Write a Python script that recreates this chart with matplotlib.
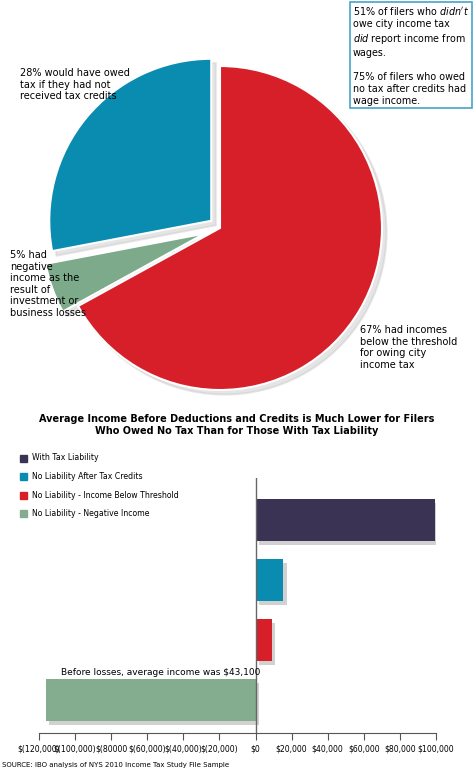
import matplotlib
matplotlib.use("Agg")
import matplotlib.pyplot as plt
import numpy as np

pie_shares = [28, 5, 67]
pie_colors = ["#0a8cb0", "#7daa8a", "#d71f2a"]
pie_labels = ["28% would have owed\ntax if they had not\nreceived tax credits",
              "5% had\nnegative\nincome as the\nresult of\ninvestment or\nbusiness losses",
              "67% had incomes\nbelow the threshold\nfor owing city\nincome tax"]

bar_cats = ["With Tax Liability", "No Liability After Tax Credits",
            "No Liability - Income Below Threshold", "No Liability - Negative Income"]
bar_vals = [99300, 15400, 9000, -116300]
bar_colors = ["#3b3354", "#0a8cb0", "#d71f2a", "#84ac8e"]
tick_vals = [-120000, -100000, -80000, -60000, -40000, -20000, 0, 20000, 40000, 60000, 80000, 100000]
tick_labels = ["$(120,000)", "$(100,000)", "$(80000", "$(60,000)", "$(40,000)", "$(20,000)",
               "$0", "$20,000", "$40,000", "$60,000", "$80,000", "$100,000"]

W, H = 474, 773
fig = plt.figure(figsize=(W/100, H/100), dpi=100)
fig.patch.set_facecolor("white")

# Pie
cx, cy, r = 220, 228, 162
axp = fig.add_axes([(cx-1.25*r)/W, 1-(cy+1.25*r)/H, 2.5*r/W, 2.5*r/H])
axp.pie(pie_shares, colors=pie_colors, startangle=90, counterclock=True,
        explode=[0.07, 0.1, 0.0], wedgeprops=dict(edgecolor="white", linewidth=1.5),
        shadow={"ox": 0.02, "oy": -0.02, "shade": 0.3, "color": "#cccccc"})
axp.set_xlim(-1.25, 1.25)
axp.set_ylim(-1.25, 1.25)
axp.set_aspect("equal")
axp.set_zorder(0)
fig.text(20/W, 1-68/H, pie_labels[0], fontsize=7, va="top", ha="left")
fig.text(10/W, 1-250/H, pie_labels[1], fontsize=7, va="top", ha="left")
fig.text(360/W, 1-325/H, pie_labels[2], fontsize=7, va="top", ha="left")

# Text box
fig.text(353/W, 1-5/H,
         "51% of filers who $\\it{didn't}$\nowe city income tax\n$\\it{did}$ report income from\nwages.\n\n75% of filers who owed\nno tax after credits had\nwage income.",
         fontsize=6.9, va="top", ha="left", linespacing=1.25, zorder=5,
         bbox=dict(boxstyle="square,pad=0.3", facecolor="white", edgecolor="#4aa3c8", linewidth=1.2))

# Title
fig.text(0.5, 1-425/H,
         "Average Income Before Deductions and Credits is Much Lower for Filers\nWho Owed No Tax Than for Those With Tax Liability",
         fontsize=7, fontweight="bold", ha="center", va="center")

# Bars
x0, x1 = 39, 436
axb = fig.add_axes([x0/W, 1-733/H, (x1-x0)/W, (733-478)/H])
ypos = np.arange(len(bar_vals))[::-1]
for y, v, c in zip(ypos, bar_vals, bar_colors):
    axb.barh(y - 0.07, v, height=0.7, left=2000, color="#999999", alpha=0.45, zorder=1)
    axb.barh(y, v, height=0.7, color=c, zorder=2)
axb.set_xlim(-120000, 100000)
axb.set_ylim(-0.55, 3.7)
axb.axvline(0, color="#666666", lw=1, zorder=3)
for s in ["top", "right", "left"]:
    axb.spines[s].set_visible(False)
axb.spines["bottom"].set_color("#555555")
axb.set_yticks([])
axb.set_xticks(tick_vals)
axb.set_xticklabels(tick_labels, fontsize=5.6)
axb.tick_params(axis="x", length=5, color="#555555", pad=3)
axb.text(-108000, 0.38, "Before losses, average income was $43,100", fontsize=6.5, va="bottom")

# Legend
for i, (lab, c) in enumerate(zip(bar_cats, bar_colors)):
    yy = 1 - (458 + i*18.5)/H
    fig.patches.append(plt.Rectangle((20/W, yy-3.5/H), 7/W, 7/H, color=c, transform=fig.transFigure))
    fig.text(32/W, yy, lab, fontsize=5.6, va="center")

fig.text(2/W, 1-768/H, "SOURCE: IBO analysis of NYS 2010 Income Tax Study File Sample", fontsize=5, va="bottom")

fig.savefig("out.png", dpi=100, facecolor="white")
